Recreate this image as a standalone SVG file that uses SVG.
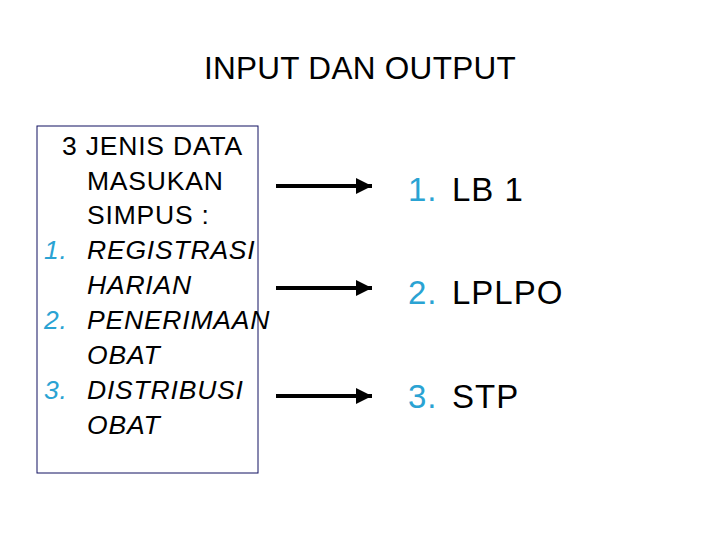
<svg xmlns="http://www.w3.org/2000/svg" width="720" height="540" viewBox="0 0 720 540">
<defs>
<style>
text{font-family:"Liberation Sans",Arial,sans-serif;fill:#000}
.t{font-size:31.5px;letter-spacing:0.3px}
.b{font-size:26.5px;letter-spacing:0.8px}
.i{font-style:italic}
.n{fill:#2AA3D3}
.r{font-size:33px;letter-spacing:1px}
.c{stroke:#000;stroke-width:4;fill:none}
</style>
<marker id="ah" viewBox="0 0 10 10" refX="10" refY="5" markerWidth="4" markerHeight="4" markerUnits="strokeWidth" orient="auto">
<path d="M0,0 L10,5 L0,10 z" fill="#000"/>
</marker>
</defs>
<rect width="720" height="540" fill="#fff"/>
<g id="title"><text class="t" x="360" y="79" text-anchor="middle">INPUT DAN OUTPUT</text></g>
<g id="inputs">
<rect x="37" y="126" width="221" height="347" fill="none" stroke="#101060" stroke-width="1"/>
<text class="b" x="62" y="155">3 JENIS DATA</text>
<text class="b" x="87" y="190">MASUKAN</text>
<text class="b" x="87" y="224">SIMPUS :</text>
<text class="b i n" x="44" y="259">1.</text><text class="b i" x="87" y="259">REGISTRASI</text>
<text class="b i" x="87" y="294">HARIAN</text>
<text class="b i n" x="44" y="329">2.</text><text class="b i" x="87" y="329">PENERIMAAN</text>
<text class="b i" x="87" y="364">OBAT</text>
<text class="b i n" x="44" y="399">3.</text><text class="b i" x="87" y="399">DISTRIBUSI</text>
<text class="b i" x="87" y="434">OBAT</text>
</g>
<g id="connectors">
<line class="c" x1="276" y1="186" x2="372" y2="186" marker-end="url(#ah)"/>
<line class="c" x1="276" y1="288" x2="372" y2="288" marker-end="url(#ah)"/>
<line class="c" x1="276" y1="396" x2="372" y2="396" marker-end="url(#ah)"/>
</g>
<g id="out1"><text class="r n" x="408" y="201">1.</text><text class="r" x="452" y="201">LB 1</text></g>
<g id="out2"><text class="r n" x="408" y="304">2.</text><text class="r" x="452" y="304">LPLPO</text></g>
<g id="out3"><text class="r n" x="408" y="408">3.</text><text class="r" x="452" y="408">STP</text></g>
</svg>
